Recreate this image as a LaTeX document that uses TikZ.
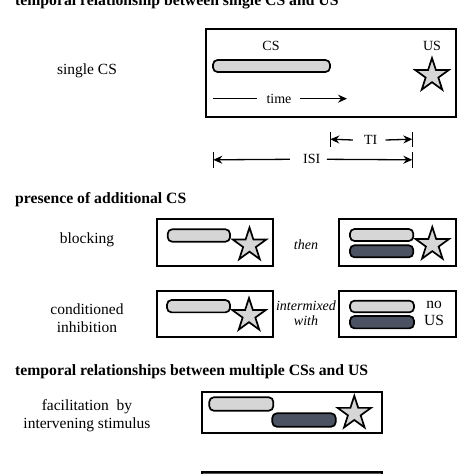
\documentclass[tikz,border=0pt]{standalone}
\usepackage{fontspec}
\setmainfont{Liberation Serif}
\usetikzlibrary{shapes.geometric,arrows.meta}
\definecolor{lightbar}{HTML}{D6D6D6}
\definecolor{darkbar}{HTML}{4B5262}
\definecolor{darkbox}{HTML}{555555}
\begin{document}
\begin{tikzpicture}[x=1pt,y=-1pt,
 frame/.style={draw,line width=1.8pt,inner sep=0,outer sep=0},
 lbar/.style={draw,line width=1.7pt,fill=lightbar,rounded corners=4.5pt,inner sep=0,outer sep=0},
 dbar/.style={lbar,fill=darkbar},
 usstar/.style={star,star points=5,star point ratio=2.618,draw,line width=1.7pt,fill=lightbar,minimum size=35pt,inner sep=0,outer sep=0},
 big/.style={font=\fontsize{15.5}{17.4}\selectfont,align=center},
 small/.style={font=\fontsize{14}{16}\selectfont},
 lbl/.style={small,inner sep=0},
 head/.style={font=\fontsize{15.7}{18}\selectfont\bfseries,anchor=base west,inner sep=0},
 dim/.style={line width=1.3pt,-{Stealth[length=9pt,width=8pt,inset=3pt]}},
 tick/.style={line width=1.6pt}]
\useasboundingbox (0,0) rectangle (474,474);
\clip (0,0) rectangle (474,474);

% headings
\node[head] (h1) at (15,5.5) {temporal relationship between single CS and US};
\node[head] (h2) at (15,203.5) {presence of additional CS};
\node[head] (h3) at (15,375) {temporal relationships between multiple CSs and US};

% ---- single CS ----
\node[big] (tsingle) at (87,70.7) {single CS};
\node[frame,minimum width=250.3pt,minimum height=88.3pt] (box1) at (330.85,72.85) {};
\node[lbar,minimum width=117pt,minimum height=12pt] (bar1) at (271.5,66) {};
\node[lbl] (cs) at (271,45.7) {CS};
\node[lbl] (us) at (432,45.7) {US};
\node[usstar] (star1) at (432,75.5) {};
\node[lbl] (time) at (279,98.7) {time};
\coordinate (timeL) at (213,98.7);
\coordinate (timeR) at (347,98.7);
\draw[line width=1.3pt] (timeL) -- ([xshift=-9.5pt]time.west);
\draw[dim] ([xshift=8.5pt]time.east) -- (timeR);

% TI / ISI
\coordinate (tiL) at (330.3,139.2);
\coordinate (tiR) at (412.3,139.2);
\coordinate (isiL) at (213.3,159.8);
\coordinate (isiR) at (412.3,159.8);
\draw[tick] ([yshift=7.5pt]tiL) -- ([yshift=-7.5pt]tiL);
\draw[tick] ([yshift=7.5pt]tiR) -- ([yshift=-7.5pt]tiR);
\draw[tick] ([yshift=7.8pt]isiL) -- ([yshift=-7.8pt]isiL);
\draw[tick] ([yshift=7.8pt]isiR) -- ([yshift=-7.8pt]isiR);
\node[lbl] (ti) at (370.7,140) {TI};
\node[lbl] (isi) at (311.7,159.3) {ISI};
\draw[dim] ([xshift=-11pt]ti.west) -- (tiL);
\draw[dim] ([xshift=8pt]ti.east) -- (tiR);
\draw[dim] ([xshift=-13pt]isi.west) -- (isiL);
\draw[dim] ([xshift=6.4pt]isi.east) -- (isiR);

% ---- blocking ----
\node[big] (tblock) at (87,240) {blocking};
\node[frame,minimum width=116.6pt,minimum height=46.4pt] (boxA) at (215,242.5) {};
\node[lbar,minimum width=62.3pt,minimum height=12.4pt] (barA) at (198.85,235.5) {};
\node[usstar] (starA) at (249.5,245) {};
\node[small,font=\fontsize{14}{16}\selectfont\itshape] (then) at (306,244.3) {then};
\node[frame,minimum width=116.7pt,minimum height=46.4pt] (boxB) at (397.35,242.5) {};
\node[lbar,minimum width=63.3pt,minimum height=12pt] (barB1) at (381.65,235) {};
\node[dbar,minimum width=63.3pt,minimum height=12pt] (barB2) at (381.65,251.3) {};
\node[usstar] (starB) at (432.3,244.5) {};

% ---- conditioned inhibition ----
\node[big] (tcond) at (87,318) {conditioned\\inhibition};
\node[frame,minimum width=116.6pt,minimum height=46pt] (boxC) at (215,313.7) {};
\node[lbar,minimum width=63pt,minimum height=12.3pt] (barC) at (198.5,306.2) {};
\node[usstar] (starC) at (249,315.5) {};
\node[font=\fontsize{14}{14.7}\selectfont\itshape,align=center] (inter) at (306,313.4) {intermixed\\with};
\node[frame,minimum width=116.7pt,minimum height=46pt] (boxD) at (397.35,313.7) {};
\node[lbar,minimum width=64pt,minimum height=11.6pt] (barD1) at (382,306.5) {};
\node[dbar,minimum width=64pt,minimum height=12.3pt] (barD2) at (382,322.2) {};
\node[big] (nous) at (434,313.5) {no\\US};

% ---- facilitation ----
\node[big] (tfac) at (87,415.7) {facilitation\ \ by\\intervening stimulus};
\node[frame,minimum width=179.4pt,minimum height=41.6pt] (boxE) at (292,412.5) {};
\node[lbar,minimum width=64pt,minimum height=13.4pt] (barE1) at (241.3,404) {};
\node[dbar,minimum width=63.4pt,minimum height=13.4pt] (barE2) at (304,420) {};
\node[usstar] (starE) at (354.3,413.3) {};

% ---- bottom (cut off) ----
\node[frame,fill=darkbox,minimum width=180pt,minimum height=20pt] (boxF) at (292.3,481.7) {};
\end{tikzpicture}
\end{document}
